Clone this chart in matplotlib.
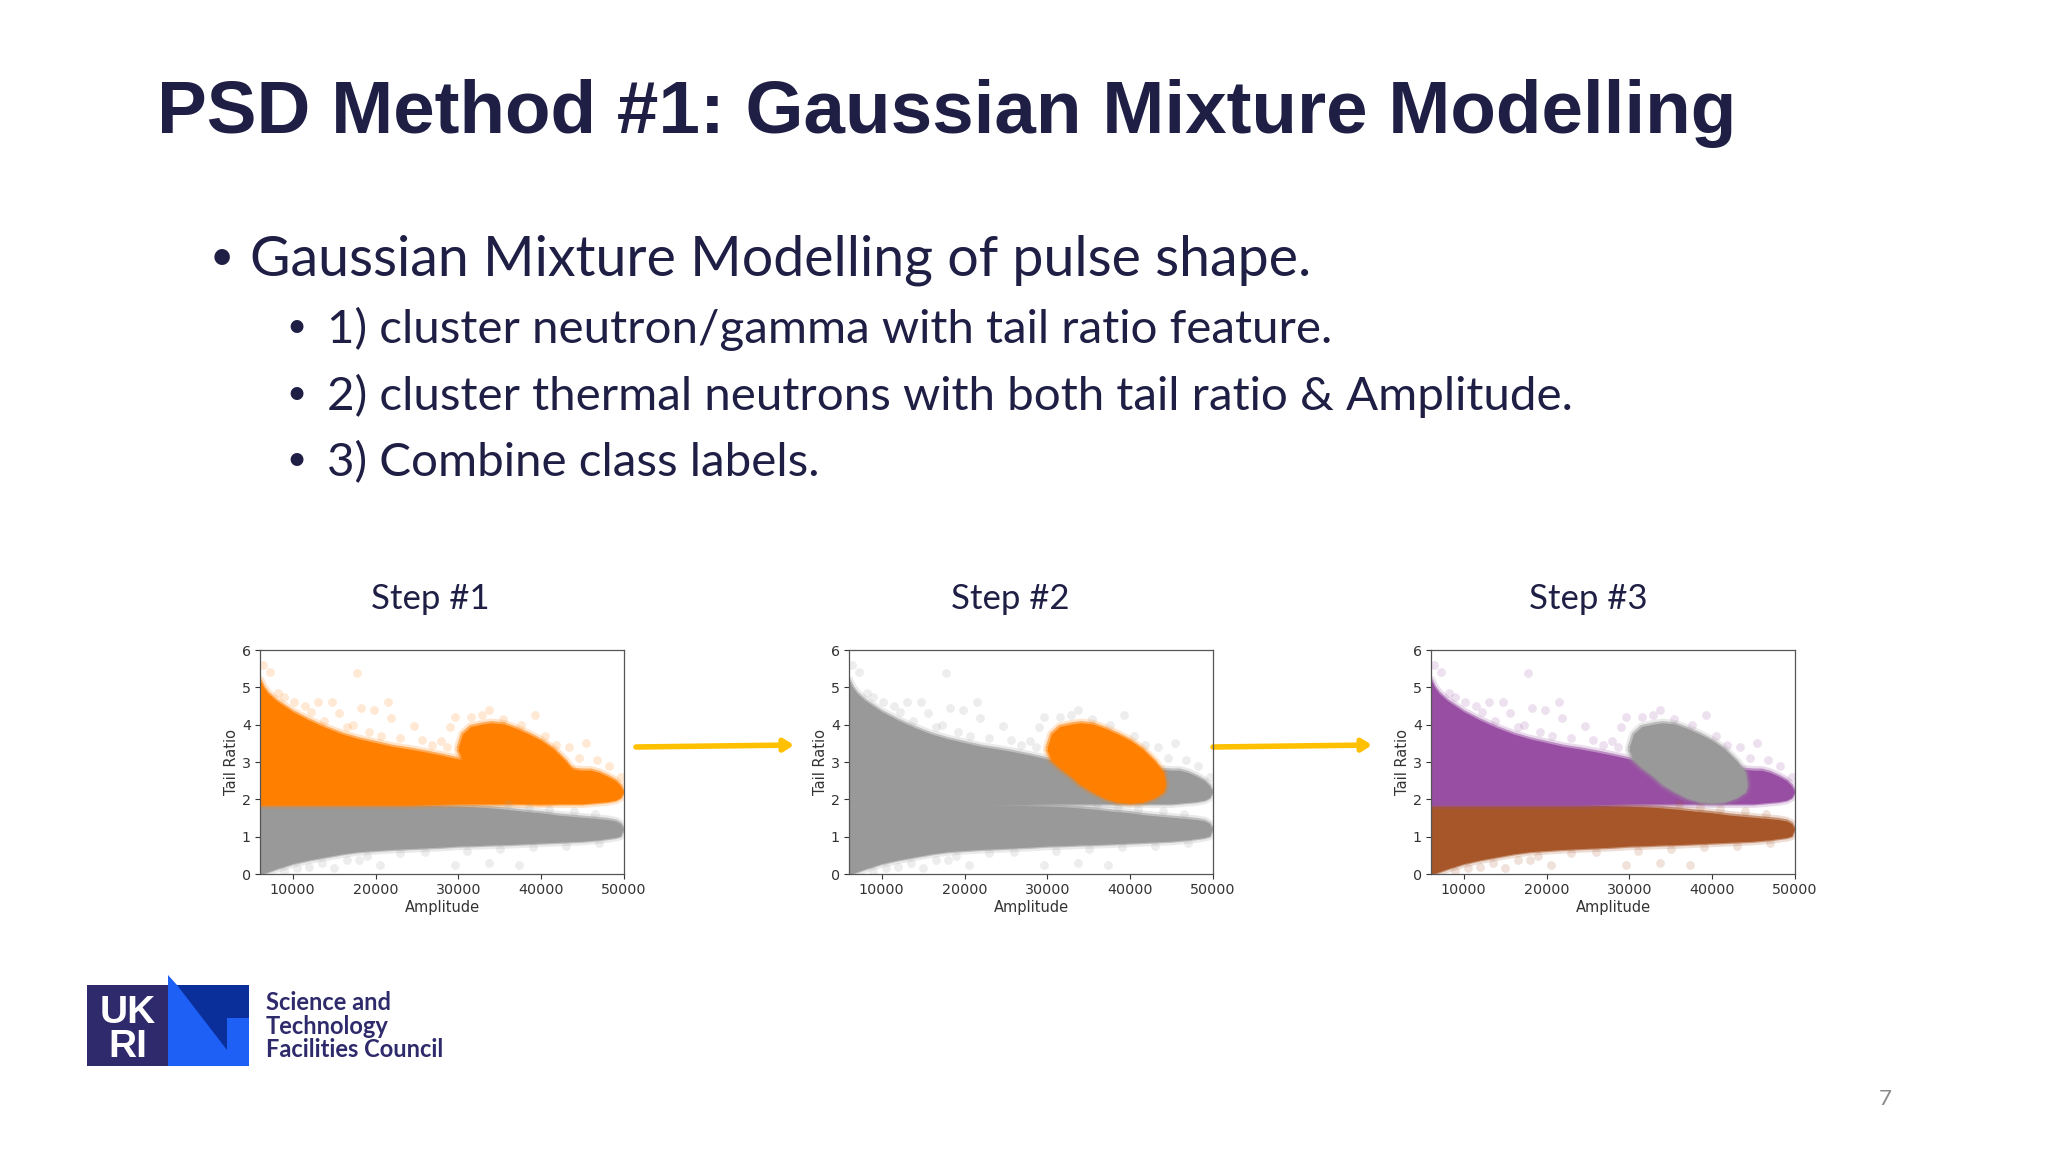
import matplotlib
matplotlib.use('Agg')
import matplotlib.pyplot as plt
from matplotlib.patches import Polygon, Rectangle

# band edges
amp = [6050, 6500, 7000, 8000, 10000, 12000, 14000, 16000, 18000, 20000, 22000, 24000, 26000, 28000, 30000,
       32000, 34000, 36000, 38000, 40000, 42000, 44000, 45000, 46000, 47000, 48000, 49000, 49600, 49900]
upper_top = [5.2, 5.0, 4.85, 4.65, 4.35, 4.12, 3.92, 3.75, 3.62, 3.52, 3.42, 3.35, 3.27, 3.18, 3.08,
             3.0, 2.95, 2.92, 2.9, 2.88, 2.84, 2.8, 2.78, 2.78, 2.72, 2.62, 2.5, 2.36, 2.2]
upper_bot = [1.85, 1.85, 1.85, 1.85, 1.85, 1.85, 1.85, 1.85, 1.85, 1.85, 1.85, 1.85, 1.86, 1.87, 1.88,
             1.88, 1.88, 1.88, 1.88, 1.88, 1.88, 1.88, 1.88, 1.9, 1.92, 1.94, 1.98, 2.05, 2.2]
lower_top = [1.85, 1.85, 1.85, 1.85, 1.85, 1.85, 1.85, 1.85, 1.85, 1.85, 1.85, 1.85, 1.84, 1.83, 1.82,
             1.8, 1.77, 1.73, 1.68, 1.64, 1.58, 1.54, 1.52, 1.5, 1.48, 1.46, 1.42, 1.35, 1.2]
lower_bot = [0.0, 0.02, 0.06, 0.14, 0.28, 0.38, 0.46, 0.54, 0.6, 0.63, 0.66, 0.68, 0.7, 0.72, 0.75,
             0.76, 0.78, 0.79, 0.81, 0.83, 0.85, 0.87, 0.88, 0.9, 0.92, 0.95, 0.98, 1.02, 1.2]

# the thermal neutron cluster
blob_x = [30000, 30500, 31500, 33000, 34000, 35500, 37000, 38500, 40000, 41500, 43000, 44000, 44200]
blob_top = [3.4, 3.75, 3.95, 4.02, 4.05, 4.02, 3.9, 3.75, 3.58, 3.35, 3.02, 2.72, 2.45]
blob_bot = [3.3, 3.05, 2.85, 2.6, 2.4, 2.2, 2.03, 1.93, 1.9, 1.93, 2.05, 2.2, 2.35]

# stray points above the upper band
out_x = [17800, 6450, 7200, 8200, 11500, 13000, 14800, 15600, 18300, 19800, 21500, 21900, 24700, 29000, 29600,
         33700, 39250, 45400, 43400, 49600, 9000, 10200, 12200, 13800, 16500, 17300, 19200, 20700, 23000, 25600,
         26800, 27900, 28600, 31500, 32800, 35400, 37600, 40500, 41800, 44600, 46800, 48200]
out_y = [5.38, 5.6, 5.4, 4.84, 4.5, 4.6, 4.6, 4.3, 4.45, 4.4, 4.6, 4.17, 3.96, 3.95, 4.2,
         4.4, 4.25, 3.5, 3.4, 2.6, 4.75, 4.6, 4.35, 4.1, 3.95, 4.0, 3.8, 3.7, 3.65, 3.6,
         3.45, 3.55, 3.4, 4.2, 4.25, 4.15, 4.0, 3.7, 3.45, 3.1, 3.05, 2.9]
# stray points below the lower band and in the gap
low_x = [29600, 33700, 37300, 15000, 18000, 12000, 20500, 9000, 10500, 13500, 16500, 19000, 23000, 26000, 31000,
         35000, 39000, 43000, 47000, 36000, 38500, 41000, 44000, 46500]
low_y = [0.24, 0.29, 0.24, 0.15, 0.37, 0.18, 0.25, 0.08, 0.15, 0.3, 0.38, 0.48, 0.55, 0.58, 0.62,
         0.66, 0.72, 0.75, 0.82, 1.88, 1.8, 1.75, 1.68, 1.62]

x_ticks = [10000, 20000, 30000, 40000, 50000]
y_ticks = [0, 1, 2, 3, 4, 5, 6]

title = 'PSD Method #1: Gaussian Mixture Modelling'
bullet_main = 'Gaussian Mixture Modelling of pulse shape.'
bullets_sub = ['1) cluster neutron/gamma with tail ratio feature.',
               '2) cluster thermal neutrons with both tail ratio & Amplitude.',
               '3) Combine class labels.']
step_names = ['Step #1', 'Step #2', 'Step #3']

ORANGE = '#FF7F00'
GRAY = '#999999'
PURPLE = '#984EA3'
BROWN = '#A65628'
INK = '#1F1F45'

W, H = 2048, 1152
fig = plt.figure(figsize=(W / 100, H / 100), dpi=100, facecolor='white')

# full page axes in pixels for the slide text and logo
page = fig.add_axes([0, 0, 1, 1])
page.set_xlim(0, W)
page.set_ylim(H, 0)
page.axis('off')

page.text(157, 133, title, fontsize=53.7, fontweight='bold', family='Liberation Sans', color=INK, va='baseline')
page.text(210, 270, '•', fontsize=30, family='Lato', color=INK, va='baseline')
page.text(250, 275, bullet_main, fontsize=40, family='Lato', color=INK, va='baseline')
for txt, yy in zip(bullets_sub, [343, 410, 476]):
    page.text(286, yy - 6, '•', fontsize=25, family='Lato', color=INK, va='baseline')
    page.text(327, yy, txt, fontsize=34.2, family='Lato', color=INK, va='baseline')
for name, xx in zip(step_names, [430, 1010, 1588]):
    page.text(xx, 609, name, fontsize=25, family='Lato', color=INK, ha='center', va='baseline')

page.annotate('', xy=(794, 745), xytext=(636, 747),
              arrowprops=dict(arrowstyle='-|>,head_length=0.55,head_width=0.35', color='#FFC000', lw=4, shrinkA=0, shrinkB=0))
page.annotate('', xy=(1372, 745), xytext=(1213, 747),
              arrowprops=dict(arrowstyle='-|>,head_length=0.55,head_width=0.35', color='#FFC000', lw=4, shrinkA=0, shrinkB=0))

# logo
page.add_patch(Rectangle((87, 985), 81, 81, color='#2E2A6B', lw=0))
page.add_patch(Polygon([(168, 975), (168, 1066), (249, 1066), (249, 985), (177, 985)], color='#1E5FF5', lw=0))
page.add_patch(Polygon([(177, 985), (249, 985), (249, 1018), (227, 1018), (227, 1050)], color='#0A2F9A', lw=0))
page.text(128, 1023, 'UK', fontsize=28, fontweight='bold', family='Liberation Sans', color='white', ha='center', va='baseline')
page.text(128, 1057, 'RI', fontsize=28, fontweight='bold', family='Liberation Sans', color='white', ha='center', va='baseline')
for txt, yy in zip(['Science and', 'Technology', 'Facilities Council'], [1010, 1034, 1057]):
    page.text(266, yy, txt, fontsize=17, fontweight='bold', family='Lato', color='#2E2A6B', va='baseline')
page.text(1885, 1105, '7', fontsize=16, family='Lato', color='#8A8A8A', ha='center', va='baseline')


def band(ax, xs, top, bot, color, z):
    ax.fill_between(xs, bot, top, color=color, lw=0, zorder=z)
    for edge in (top, bot):
        ax.plot(xs, edge, color=color, lw=2.5, alpha=0.55, zorder=z, solid_capstyle='round')
        ax.plot(xs, edge, color=color, lw=6, alpha=0.2, zorder=z, solid_capstyle='round')


panels = [
    (260, ORANGE, GRAY, ORANGE, ORANGE, GRAY),
    (849, GRAY, GRAY, ORANGE, GRAY, GRAY),
    (1431, PURPLE, BROWN, GRAY, PURPLE, BROWN),
]
for left, c_up, c_low, c_blob, c_out, c_lowout in panels:
    ax = fig.add_axes([left / W, 1 - 874 / H, 364 / W, 224 / H])
    ax.patch.set_alpha(0)
    band(ax, amp, lower_top, lower_bot, c_low, 1)
    band(ax, amp, upper_top, upper_bot, c_up, 2)
    band(ax, blob_x, blob_top, blob_bot, c_blob, 3)
    ax.scatter(out_x, out_y, s=40, color=c_out, alpha=0.17, lw=0, zorder=2)
    ax.scatter(low_x, low_y, s=40, color=c_lowout, alpha=0.17, lw=0, zorder=2)
    ax.set_xlim(6050, 50000)
    ax.set_ylim(0, 6)
    ax.set_xticks(x_ticks)
    ax.set_yticks(y_ticks)
    ax.tick_params(labelsize=10.3, colors='#333333', length=3.5, width=0.8, pad=3)
    ax.set_xlabel('Amplitude', fontsize=10.5, color='#333333', labelpad=2)
    ax.set_ylabel('Tail Ratio', fontsize=10.5, color='#333333', labelpad=2)
    for sp in ax.spines.values():
        sp.set_color('#555555')
        sp.set_linewidth(0.9)

fig.savefig('out.png', dpi=100)
